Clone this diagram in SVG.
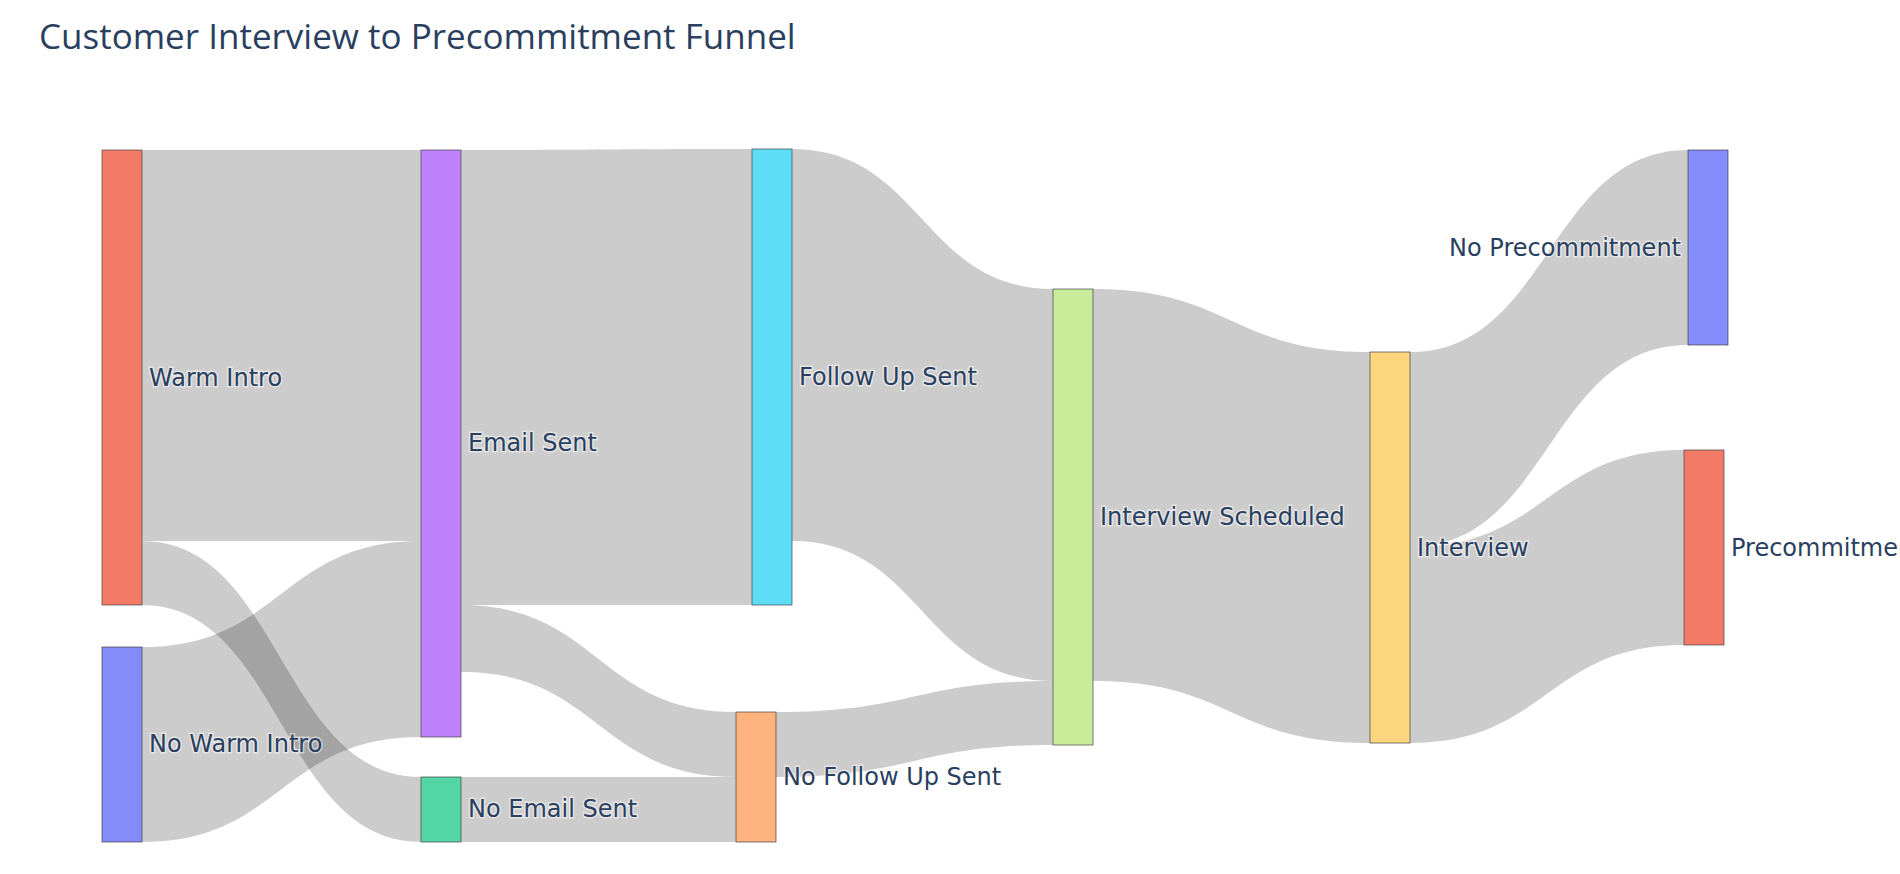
<svg xmlns="http://www.w3.org/2000/svg" width="1900" height="874" viewBox="0 0 1900 874">
<style>
.link{fill:rgba(0,0,0,0.2);}
.node rect{stroke:#444;stroke-width:0.7;}
.lbl{font-family:"DejaVu Sans",Verdana,sans-serif;font-size:24px;fill:#2a3f5f;stroke:#fff;stroke-width:3;stroke-opacity:0.5;paint-order:stroke;dominant-baseline:central;}
.title{font-family:"Open Sans","Liberation Sans",sans-serif;font-size:35px;fill:#2a3f5f;}
</style>
<rect width="1900" height="874" fill="#fff"/>
<text class="title" x="39" y="49">Customer Interview to Precommitment Funnel</text>
<g id="links">
<path class="link" d="M142,150 C281,150 281,150 421,150 L421,541 C281,541 281,541 142,541 Z"/>
<path class="link" d="M142,541 C281,541 281,777 421,777 L421,842 C281,842 281,605 142,605 Z"/>
<path class="link" d="M142,647 C281,647 281,541 421,541 L421,737 C281,737 281,842 142,842 Z"/>
<path class="link" d="M461,150 C606,150 606,149 752,149 L752,605 C606,605 606,605 461,605 Z"/>
<path class="link" d="M461,605 C598,605 598,712 736,712 L736,777 C598,777 598,672 461,672 Z"/>
<path class="link" d="M461,777 C598,777 598,777 736,777 L736,842 C598,842 598,842 461,842 Z"/>
<path class="link" d="M792,149 C922,149 922,289 1053,289 L1053,681 C922,681 922,541 792,541 Z"/>
<path class="link" d="M776,712 C914,712 914,681 1053,681 L1053,745 C914,745 914,777 776,777 Z"/>
<path class="link" d="M1093,289 C1231,289 1231,352 1370,352 L1370,743 C1231,743 1231,681 1093,681 Z"/>
<path class="link" d="M1410,352 C1549,352 1549,150 1688,150 L1688,345 C1549,345 1549,547 1410,547 Z"/>
<path class="link" d="M1410,547 C1547,547 1547,450 1684,450 L1684,645 C1547,645 1547,743 1410,743 Z"/>
</g>
<g id="n-warm" class="node"><rect x="102" y="150" width="40" height="455" fill="#f47a68"/><text class="lbl" x="149" y="378">Warm Intro</text></g>
<g id="n-nowarm" class="node"><rect x="102" y="647" width="40" height="195" fill="#848bfb"/><text class="lbl" x="149" y="744">No Warm Intro</text></g>
<g id="n-email" class="node"><rect x="421" y="150" width="40" height="587" fill="#bf82fb"/><text class="lbl" x="468" y="443">Email Sent</text></g>
<g id="n-noemail" class="node"><rect x="421" y="777" width="40" height="65" fill="#55d6a6"/><text class="lbl" x="468" y="809">No Email Sent</text></g>
<g id="n-follow" class="node"><rect x="752" y="149" width="40" height="456" fill="#5ddcf5"/><text class="lbl" x="799" y="377">Follow Up Sent</text></g>
<g id="n-nofollow" class="node"><rect x="736" y="712" width="40" height="130" fill="#ffb37e"/><text class="lbl" x="783" y="777">No Follow Up Sent</text></g>
<g id="n-sched" class="node"><rect x="1053" y="289" width="40" height="456" fill="#c9ec9b"/><text class="lbl" x="1100" y="517">Interview Scheduled</text></g>
<g id="n-interview" class="node"><rect x="1370" y="352" width="40" height="391" fill="#fdd57d"/><text class="lbl" x="1417" y="548">Interview</text></g>
<g id="n-noprecommit" class="node"><rect x="1688" y="150" width="40" height="195" fill="#848bfb"/><text class="lbl" x="1681" y="248" text-anchor="end">No Precommitment</text></g>
<g id="n-precommit" class="node"><rect x="1684" y="450" width="40" height="195" fill="#f47a68"/><text class="lbl" x="1731" y="548">Precommitment</text></g>
</svg>
